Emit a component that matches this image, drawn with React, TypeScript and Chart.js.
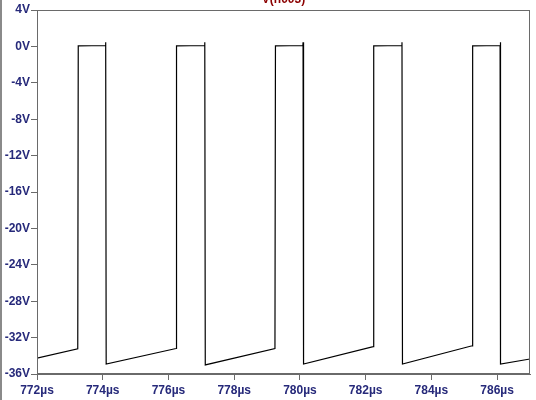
import React, { useEffect, useRef } from "react";
import { Chart, registerables } from "chart.js";

Chart.register(...registerables);

const title = "V(n003)";
const timesUs = [
  772, 773.24, 773.255, 774.085, 774.09, 774.105,
  776.23, 776.245, 777.1, 777.105, 777.12,
  779.24, 779.255, 780.09, 780.095, 780.11,
  782.23, 782.245, 783.1, 783.105, 783.12,
  785.24, 785.255, 786.09, 786.095, 786.11,
  787,
];
const volts = [
  -34.25, -33.24, 0.05, 0.1, 0.45, -34.9,
  -33.2, 0.05, 0.1, 0.45, -35.0,
  -33.2, 0.05, 0.1, 0.45, -34.9,
  -33.0, 0.05, 0.1, 0.45, -34.9,
  -32.9, 0.05, 0.1, 0.45, -34.9,
  -34.35,
];
const xTicks = [772, 774, 776, 778, 780, 782, 784, 786];
const yTicks = [4, 0, -4, -8, -12, -16, -20, -24, -28, -32, -36];

const labelColor = "#26297a";
const axisColor = "#6a6a6a";

export default function App() {
  const ref = useRef<HTMLCanvasElement | null>(null);
  useEffect(() => {
    const canvas = ref.current;
    if (!canvas) return;
    const framePlugin = {
      id: "frame",
      beforeDraw(chart: any) {
        const ctx = chart.ctx;
        ctx.save();
        ctx.fillStyle = "#ffffff";
        ctx.fillRect(0, 0, chart.width, chart.height);
        ctx.fillStyle = "#8a8a8a";
        ctx.fillRect(0, 0, 2, chart.height);
        ctx.restore();
      },
      afterDraw(chart: any) {
        const { ctx, chartArea } = chart;
        ctx.save();
        ctx.strokeStyle = axisColor;
        ctx.lineWidth = 1;
        ctx.strokeRect(
          Math.round(chartArea.left) + 0.5,
          Math.round(chartArea.top) + 0.5,
          Math.round(chartArea.right - chartArea.left) - 1,
          Math.round(chartArea.bottom - chartArea.top) - 1
        );
        ctx.fillStyle = "#8b0000";
        ctx.font = "bold 12px 'Liberation Sans', Arial, sans-serif";
        ctx.textAlign = "center";
        ctx.textBaseline = "alphabetic";
        ctx.fillText(title, (chartArea.left + chartArea.right) / 2, 3);
        ctx.restore();
      },
    };
    const chart = new Chart(canvas, {
      type: "scatter",
      data: {
        datasets: [
          {
            data: timesUs.map((t, i) => ({ x: t, y: volts[i] })),
            showLine: true,
            borderColor: "#000000",
            borderWidth: 1.2,
            pointRadius: 0,
            tension: 0,
          },
        ],
      },
      options: {
        animation: false,
        responsive: false,
        devicePixelRatio: 1,
        layout: { padding: { top: 10, right: 6, left: 0, bottom: 0 } },
        plugins: {
          legend: { display: false },
          tooltip: { enabled: false },
          title: { display: false },
        },
        scales: {
          x: {
            type: "linear",
            min: 772,
            max: 787,
            afterBuildTicks: (s: any) => {
              s.ticks = xTicks.map((v) => ({ value: v }));
            },
            afterFit: (s: any) => {
              s.height = 26;
            },
            grid: {
              drawOnChartArea: false,
              drawTicks: true,
              tickLength: 6,
              color: axisColor,
            },
            border: { display: true, color: axisColor },
            ticks: {
              color: labelColor,
              padding: 3,
              maxRotation: 0,
              autoSkip: false,
              font: { family: "'Liberation Sans', Arial, sans-serif", size: 12, weight: "bold" },
              callback: (v: any) => `${v}µs`,
            },
          },
          y: {
            type: "linear",
            min: -36,
            max: 4,
            afterBuildTicks: (s: any) => {
              s.ticks = yTicks.map((v) => ({ value: v }));
            },
            afterFit: (s: any) => {
              s.width = 37;
            },
            grid: {
              drawOnChartArea: false,
              drawTicks: true,
              tickLength: 6,
              color: axisColor,
            },
            border: { display: true, color: axisColor },
            ticks: {
              color: labelColor,
              padding: 1,
              autoSkip: false,
              font: { family: "'Liberation Sans', Arial, sans-serif", size: 12, weight: "bold" },
              callback: (v: any) => `${v}V`,
            },
          },
        },
      },
      plugins: [framePlugin],
    } as any);
    return () => chart.destroy();
  }, []);
  return (
    <div style={{ position: "fixed", left: 0, top: 0, width: 536, height: 400, background: "#fff" }}>
      <canvas ref={ref} width={536} height={400} style={{ width: 536, height: 400, display: "block" }} />
    </div>
  );
}
